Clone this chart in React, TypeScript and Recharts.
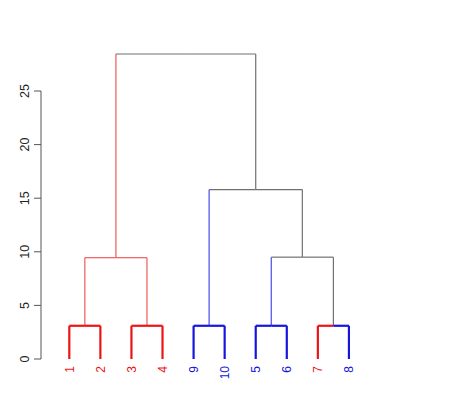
import { LineChart, Line, XAxis, YAxis, ReferenceLine } from "recharts";

// leaves in plotting order
const leafLabels = ["1", "2", "3", "4", "9", "10", "5", "6", "7", "8"];
const leafColors = ["red", "red", "red", "red", "blue", "blue", "blue", "blue", "red", "blue"];

// R-style merge table: negative = leaf position, positive = earlier merge row
const mergeLeft = [-1, -3, -5, -7, -9, 1, 4, 3, 6];
const mergeRight = [-2, -4, -6, -8, -10, 2, 5, 7, 8];
const mergeHeights = [3.1, 3.1, 3.1, 3.1, 3.1, 9.45, 9.5, 15.8, 28.45];
const nodeColors = ["red", "red", "blue", "blue", "gray", "red", "gray", "gray", "gray"];

const yTicks = [0, 5, 10, 15, 20, 25];

const thick: Record<string, string> = { red: "#ec1515", blue: "#1515dc" };
const thin: Record<string, string> = { red: "#ee5a5a", blue: "#4a4aee", gray: "#707070" };

const FONT = "'Liberation Sans', Arial, Helvetica, sans-serif";

type Seg = { x1: number; y1: number; x2: number; y2: number; color: string; width: number };

function nodePos(ref: number): { x: number; h: number } {
  if (ref < 0) return { x: -ref, h: 0 };
  const l = nodePos(mergeLeft[ref - 1]);
  const r = nodePos(mergeRight[ref - 1]);
  return { x: (l.x + r.x) / 2, h: mergeHeights[ref - 1] };
}

function buildSegments() {
  const thinSegs: Seg[] = [];
  const thickSegs: Seg[] = [];
  mergeHeights.forEach((h, i) => {
    const mid = nodePos(i + 1).x;
    [mergeLeft[i], mergeRight[i]].forEach((c) => {
      const cp = nodePos(c);
      if (c < 0) {
        const col = thick[leafColors[-c - 1]];
        thickSegs.push({ x1: cp.x, y1: 0, x2: cp.x, y2: h, color: col, width: 2.2 });
        thickSegs.push({ x1: cp.x, y1: h, x2: mid, y2: h, color: col, width: 2.2 });
      } else {
        thinSegs.push({ x1: cp.x, y1: cp.h, x2: cp.x, y2: h, color: thin[nodeColors[c - 1]], width: 1.2 });
        thinSegs.push({ x1: cp.x, y1: h, x2: mid, y2: h, color: thin[nodeColors[i]], width: 1.2 });
      }
    });
  });
  return [...thinSegs, ...thickSegs];
}

const segments = buildSegments();
// leaves sit at height 0
const leafData = leafLabels.map((label, i) => ({ x: i + 1, h: 0, label }));

const LeafTick = (props: any) => {
  const { x, y, payload } = props;
  const idx = Math.round(payload.value) - 1;
  const tx = x + 4.5;
  const ty = y + 7;
  return (
    <text
      x={tx}
      y={ty}
      transform={`rotate(-90, ${tx}, ${ty})`}
      textAnchor="end"
      style={{ fontSize: 12, fontFamily: FONT }}
      fill={thick[leafColors[idx]]}
    >
      {leafLabels[idx]}
    </text>
  );
};

const HeightTick = (props: any) => {
  const { x, y, payload } = props;
  const tx = x - 3;
  return (
    <text
      x={tx}
      y={y}
      transform={`rotate(-90, ${tx}, ${y})`}
      textAnchor="middle"
      style={{ fontSize: 12.5, fontFamily: FONT }}
      fill="#222"
    >
      {payload.value}
    </text>
  );
};

export default function App() {
  return (
    <div style={{ position: "absolute", left: 0, top: 0, background: "#fff" }}>
      <LineChart
        width={474}
        height={414}
        data={leafData}
        margin={{ top: 91, right: 94, bottom: 15, left: 0 }}
      >
        <XAxis
          dataKey="x"
          type="number"
          domain={[0.089, 11]}
          ticks={leafData.map((d) => d.x)}
          interval={0}
          axisLine={false}
          tickLine={false}
          tickSize={0}
          tickMargin={0}
          height={40}
          allowDataOverflow
          tick={<LeafTick />}
        />
        <YAxis
          type="number"
          domain={[0, 25]}
          ticks={yTicks}
          interval={0}
          width={41}
          tickSize={7}
          allowDataOverflow
          axisLine={{ stroke: "#555" }}
          tickLine={{ stroke: "#555" }}
          tick={<HeightTick />}
        />
        <Line dataKey="h" stroke="none" dot={false} activeDot={false} isAnimationActive={false} />
        {segments.map((s, i) => (
          <ReferenceLine
            key={`seg-${i}`}
            segment={[
              { x: s.x1, y: s.y1 },
              { x: s.x2, y: s.y2 },
            ]}
            stroke={s.color}
            strokeWidth={s.width}
            ifOverflow="visible"
          />
        ))}
      </LineChart>
    </div>
  );
}
